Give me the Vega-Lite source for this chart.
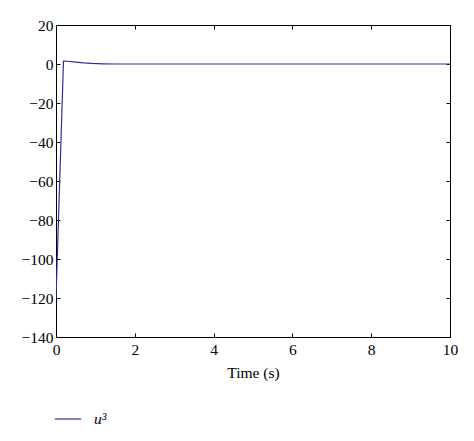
{
  "$schema": "https://vega.github.io/schema/vega-lite/v6.json",
  "width": 394,
  "height": 312,
  "autosize": {"type": "none"},
  "padding": {"left": 56, "top": 25, "right": 24, "bottom": 104},
  "background": "white",
  "config": {
    "font": "Liberation Serif",
    "view": {"stroke": "black", "strokeWidth": 1},
    "axis": {
      "grid": false,
      "domainColor": "black",
      "tickColor": "black",
      "labelColor": "black",
      "titleColor": "black",
      "labelFontSize": 15.5,
      "titleFontSize": 15.5,
      "titleFontWeight": "normal",
      "tickSize": -4,
      "labelPadding": 7,
      "labelFlush": false,
      "labelOverlap": false
    }
  },
  "data": {
    "values": [
      {"t": 0, "u": -120, "s": "u³"},
      {"t": 0.19, "u": 1.5, "s": "u³"},
      {"t": 0.3, "u": 1.4, "s": "u³"},
      {"t": 0.5, "u": 1.0, "s": "u³"},
      {"t": 0.7, "u": 0.6, "s": "u³"},
      {"t": 0.9, "u": 0.3, "s": "u³"},
      {"t": 1.2, "u": 0.1, "s": "u³"},
      {"t": 1.5, "u": 0.0, "s": "u³"},
      {"t": 2, "u": 0, "s": "u³"},
      {"t": 10, "u": 0, "s": "u³"}
    ]
  },
  "layer": [
    {
      "mark": {"type": "line", "strokeWidth": 1.2, "clip": true},
      "encoding": {
        "x": {
          "field": "t", "type": "quantitative", "title": "Time (s)",
          "scale": {"domain": [0, 10], "nice": false},
          "axis": {"values": [0, 2, 4, 6, 8, 10], "labelPadding": 9, "titlePadding": 8}
        },
        "y": {
          "field": "u", "type": "quantitative", "title": null,
          "scale": {"domain": [-140, 20], "nice": false},
          "axis": {"values": [-140, -120, -100, -80, -60, -40, -20, 0, 20]}
        },
        "color": {
          "field": "s", "type": "nominal",
          "scale": {"range": ["#2e2e9e"]},
          "legend": {
            "title": null,
            "orient": "none",
            "legendX": -2,
            "legendY": 380,
            "symbolType": "stroke",
            "symbolSize": 700,
            "symbolStrokeWidth": 1.2,
            "labelFontSize": 15.5,
            "labelFontStyle": "italic",
            "labelColor": "black",
            "labelOffset": 12
          }
        }
      }
    },
    {
      "mark": {"type": "line", "opacity": 0},
      "encoding": {
        "x": {
          "field": "t", "type": "quantitative",
          "axis": {"orient": "top", "values": [0, 2, 4, 6, 8, 10], "labels": false, "title": null}
        },
        "y": {
          "field": "u", "type": "quantitative",
          "axis": {"orient": "right", "values": [-140, -120, -100, -80, -60, -40, -20, 0, 20], "labels": false, "title": null}
        }
      }
    }
  ],
  "resolve": {"axis": {"x": "independent", "y": "independent"}}
}
